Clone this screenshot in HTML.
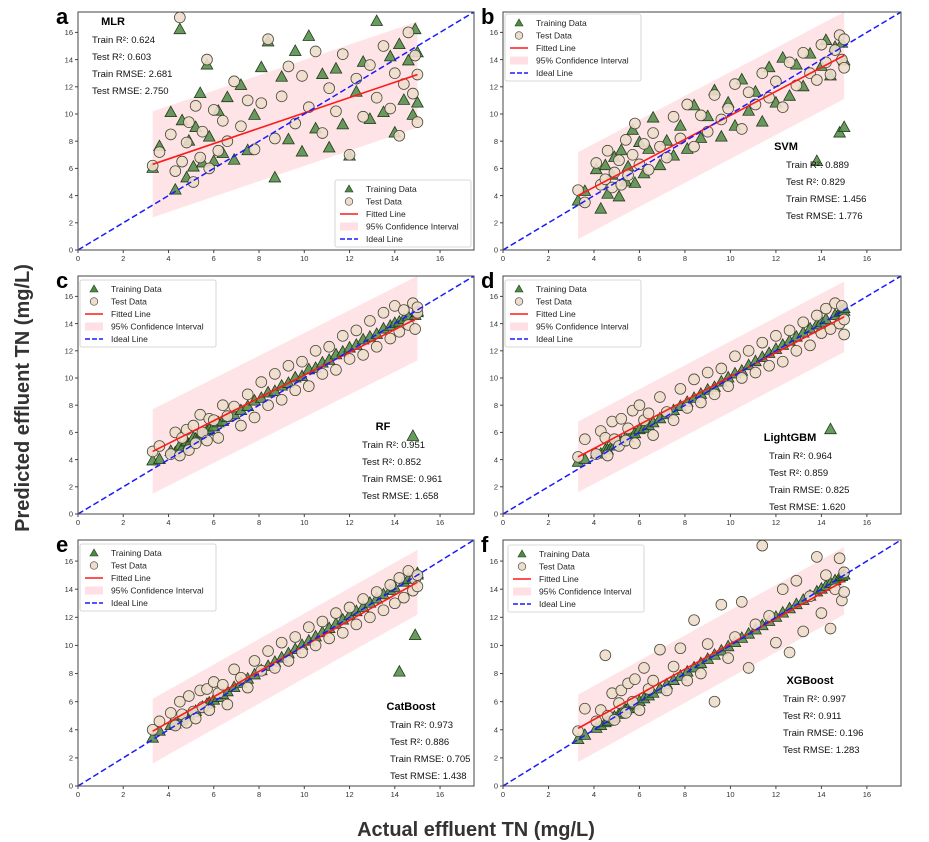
<!DOCTYPE html>
<html><head><meta charset="utf-8"><style>
body{margin:0;background:#fff;}
svg{display:block;font-family:"Liberation Sans",sans-serif;}
</style></head><body>
<svg id="fig" width="929" height="842" viewBox="0 0 929 842"></svg>
<script>
const actual=[3.3,3.6,4.1,4.3,4.5,4.6,4.8,4.9,5.1,5.2,5.4,5.5,5.7,5.8,6.0,6.2,6.4,6.6,6.9,7.2,7.5,7.8,8.1,8.4,8.7,9.0,9.3,9.6,9.9,10.2,10.5,10.8,11.1,11.4,11.7,12.0,12.3,12.6,12.9,13.2,13.5,13.8,14.0,14.2,14.4,14.6,14.8,14.9,15.0,15.0];
const mlrTrain=[6.0,7.6,10.1,4.4,16.2,9.5,5.3,8.0,6.1,9.0,11.5,6.4,13.6,8.3,6.5,10.2,7.1,11.2,6.6,12.1,7.3,9.9,13.4,15.3,5.3,12.7,8.1,14.6,7.2,15.7,8.9,12.9,7.5,13.3,9.2,6.9,11.6,13.8,9.6,16.8,10.1,14.2,8.6,15.1,11.0,13.9,9.9,16.2,14.5,10.8];
const mlrTest=[6.2,7.2,8.5,5.8,17.1,6.5,7.9,9.4,5.0,10.6,6.8,8.7,14.0,6.0,10.3,7.3,9.5,8.0,12.4,9.1,11.0,7.4,10.8,15.5,8.2,11.3,13.5,9.3,12.8,10.5,14.6,8.6,11.9,10.2,14.4,7.0,12.6,9.8,13.6,11.2,15.0,10.4,13.0,8.4,12.2,16.0,11.5,14.3,12.9,9.4];
const svmTrain=[3.6,4.3,5.9,3.0,6.2,4.1,5.5,6.8,3.9,7.3,5.0,6.1,8.8,4.9,7.9,5.6,7.4,9.7,6.2,8.0,6.9,9.1,7.4,10.6,8.2,9.8,11.7,8.3,10.8,9.1,12.5,10.2,11.6,9.4,13.4,10.8,14.1,11.3,13.6,12.0,14.4,6.5,13.5,15.4,12.8,14.9,8.6,15.2,13.9,9.0];
const svmTest=[4.4,3.5,6.4,4.8,5.2,7.3,4.6,5.7,6.6,4.8,8.1,5.5,7.0,9.3,6.3,7.8,5.9,8.6,7.6,6.8,9.8,8.2,10.7,7.6,9.9,8.7,11.4,9.6,10.4,12.2,8.9,11.6,10.7,13.0,11.2,12.4,10.5,13.8,12.1,14.5,13.0,12.5,15.1,13.8,12.9,14.7,15.8,14.0,13.4,15.5];
const rfTrain=[3.9,4.0,4.6,4.5,5.0,4.8,5.3,5.1,5.6,5.5,5.8,5.9,6.1,6.2,6.4,6.7,6.8,7.1,7.3,7.6,7.9,8.3,8.5,8.9,9.0,9.4,9.6,10.0,10.1,10.6,10.7,11.1,11.3,11.7,11.9,12.2,12.4,12.8,13.0,13.2,13.6,13.8,14.0,14.1,14.3,14.5,5.7,14.6,14.8,14.9];
const rfTest=[4.6,5.0,4.4,6.0,4.3,5.6,6.2,4.7,6.5,5.2,7.3,6.0,5.4,7.0,6.9,5.6,8.0,7.2,7.9,6.5,8.8,7.1,9.7,8.0,10.3,8.4,10.9,9.1,11.2,9.4,12.0,10.3,12.3,10.6,13.1,11.4,13.5,11.7,14.2,12.3,14.8,12.9,15.3,13.4,15.0,13.9,15.5,13.6,14.8,15.2];
const lgbTrain=[3.8,4.0,4.4,4.4,4.7,4.7,5.0,5.0,5.3,5.3,5.6,5.6,5.9,5.9,6.2,6.3,6.5,6.7,7.0,7.3,7.6,7.9,8.2,8.5,8.8,9.1,9.3,9.7,10.0,10.3,10.5,10.9,11.2,11.5,11.8,12.1,12.4,12.7,13.0,13.3,13.6,13.9,14.1,14.3,6.2,14.6,14.8,14.9,14.9,15.1];
const lgbTest=[4.2,5.5,4.4,6.1,5.6,4.3,6.8,5.5,5.0,7.0,5.4,6.3,7.6,5.2,8.0,6.9,7.4,5.8,8.6,7.5,6.9,9.2,7.8,9.9,8.2,10.4,8.8,10.7,9.4,11.6,10.0,12.0,10.4,12.6,10.9,13.1,11.2,13.5,12.0,14.1,12.4,14.6,13.3,15.1,13.6,15.5,14.0,15.3,14.3,13.2];
const catTrain=[3.4,3.9,4.3,4.4,4.6,4.7,4.9,5.0,5.2,5.3,5.5,5.6,5.8,5.9,6.1,6.3,6.5,6.7,7.0,7.3,7.6,7.9,8.2,8.5,8.8,9.1,9.4,9.7,10.0,10.3,10.6,10.9,11.2,11.5,11.8,12.1,12.4,12.7,13.0,13.3,13.6,13.9,14.1,8.1,14.5,14.7,14.8,10.7,15.0,15.1];
const catTest=[4.0,4.6,5.2,4.3,6.0,5.1,4.5,6.4,5.3,4.8,6.8,5.6,6.9,5.4,7.4,6.6,7.2,5.8,8.3,7.7,7.0,8.9,8.2,9.6,8.4,10.2,8.9,10.6,9.5,11.3,10.0,11.7,10.5,12.3,10.9,12.7,11.5,13.3,12.0,13.8,12.5,14.3,13.0,14.8,13.4,15.3,13.9,14.7,14.2,15.0];
const xgbTrain=[3.3,3.6,4.1,4.3,4.5,4.6,4.8,4.9,5.1,5.2,5.4,5.5,5.7,5.8,6.0,6.2,6.4,6.6,6.9,7.2,7.5,7.8,8.1,8.4,8.7,9.0,9.3,9.6,9.9,10.2,10.5,10.8,11.1,11.4,11.7,12.0,12.3,12.6,12.9,13.2,13.5,13.8,14.0,14.2,14.4,14.6,14.8,14.9,15.0,15.0];
const xgbTest=[3.9,5.5,4.6,5.4,9.3,5.0,6.6,4.7,5.9,6.8,5.2,7.3,6.0,7.6,5.4,8.4,6.9,7.5,9.7,6.8,8.5,9.8,7.5,11.8,8.0,10.1,6.0,12.9,9.1,10.6,13.1,8.4,11.5,17.1,12.1,10.2,14.0,9.5,14.6,11.0,13.5,16.3,12.3,15.0,11.2,14.0,16.2,13.2,15.2,13.8];
const modelNames=["MLR","SVM","RF","LightGBM","CatBoost","XGBoost"];
const panelLetters=["a","b","c","d","e","f"];
const fitStart=[6.3,4.0,4.6,4.2,3.9,4.1];
const fitEnd=[12.9,14.3,14.4,14.5,14.5,14.6];
const ciHalf=[3.9,3.2,3.1,2.6,2.3,2.4];
const trainR2=["0.624","0.889","0.951","0.964","0.973","0.997"];
const testR2=["0.603","0.829","0.852","0.859","0.886","0.911"];
const trainRMSE=["2.681","1.456","0.961","0.825","0.705","0.196"];
const testRMSE=["2.750","1.776","1.658","1.620","1.438","1.283"];
const xRange=[3.3,15.0];
const tickVals=[0,2,4,6,8,10,12,14,16];
const trains=[mlrTrain,svmTrain,rfTrain,lgbTrain,catTrain,xgbTrain];
const tests=[mlrTest,svmTest,rfTest,lgbTest,catTest,xgbTest];

const NS="http://www.w3.org/2000/svg";
const svg=document.getElementById('fig');
function mk(tag,attrs,parent,text){const e=document.createElementNS(NS,tag);for(const k in attrs)e.setAttribute(k,attrs[k]);if(text!==undefined)e.textContent=text;(parent||svg).appendChild(e);return e;}
const boxes=[[78,474,12,250],[503,901,12,250],[78,474,276,514],[503,901,276,514],[78,474,540,786],[503,901,540,786]];
const statPos=[[113,25,92,'l'],[786,150,786,'r'],[383,430,362,'r'],[790,441,769,'r'],[411,710,390,'r'],[810,684,783,'r']];
const legPos=[[335,180],[505,14],[80,280],[505,280],[80,544],[508,545]];

for(let p=0;p<6;p++){
  const [L,R,T,B]=boxes[p];
  const sx=v=>L+(R-L)*v/17.5, sy=v=>B-(B-T)*v/17.5;
  const g=mk('g',{},svg);
  
  
  const clipId='clip'+p;
  const cp=mk('clipPath',{id:clipId},g);mk('rect',{x:L,y:T,width:R-L,height:B-T},cp);
  const plot=mk('g',{'clip-path':'url(#'+clipId+')'},g);
  const x0=xRange[0],x1=xRange[1];
  const band=mk('polygon',{points:[[sx(x0),sy(fitStart[p]+ciHalf[p])],[sx(x1),sy(fitEnd[p]+ciHalf[p])],[sx(x1),sy(fitEnd[p]-ciHalf[p])],[sx(x0),sy(fitStart[p]-ciHalf[p])]].map(a=>a.join(',')).join(' '),fill:'#ffdfe3',opacity:0.85},plot);
  
  
  trains[p].forEach((v,i)=>{const cx=sx(actual[i]),cy=sy(v);
    const t=mk('polygon',{points:`${cx},${cy-6.5} ${cx-5.8},${cy+4} ${cx+5.8},${cy+4}`,fill:'#4f8a44',stroke:'#1f3d1a','stroke-width':0.8,'fill-opacity':0.85},plot);
    
    });
  tests[p].forEach((v,i)=>{
    const c=mk('circle',{cx:sx(actual[i]),cy:sy(v),r:5.4,fill:'#eeddcc',stroke:'#4a4a3a','stroke-width':0.8,'fill-opacity':0.9},plot);
    
    });
  const fl=mk('line',{x1:sx(x0),y1:sy(fitStart[p]),x2:sx(x1),y2:sy(fitEnd[p]),stroke:'#ff1a1a','stroke-width':1.6},plot);
  
  
  const il=mk('line',{x1:sx(0),y1:sy(0),x2:sx(17.5),y2:sy(17.5),stroke:'#1a1aff','stroke-width':1.5,'stroke-dasharray':'6,3'},plot);
  
  
  mk('rect',{x:L,y:T,width:R-L,height:B-T,fill:'none',stroke:'#444','stroke-width':1},g);
  tickVals.forEach(v=>{
    mk('line',{x1:sx(v),x2:sx(v),y1:B,y2:B+3,stroke:'#444'},g);
    const xt=mk('text',{x:sx(v),y:B+11,'font-size':7.5,'text-anchor':'middle',fill:'#333'},g,v);
    
    
    mk('line',{x1:L-3,x2:L,y1:sy(v),y2:sy(v),stroke:'#444'},g);
    const yt=mk('text',{x:L-5,y:sy(v)+2.7,'font-size':7.5,'text-anchor':'end',fill:'#333'},g,v);
    
    
  });
  const lt=mk('text',{x:L-22,y:T+12,'font-size':22,'font-weight':'bold',fill:'#000'},g,panelLetters[p]);
  
  
  const [tx,ty,lx]=statPos[p];
  const mn=mk('text',{x:tx,y:ty,'font-size':11,'font-weight':'bold','text-anchor':'middle'},g,modelNames[p]);
  
  
  const lines=['Train R²:  '+trainR2[p],'Test R²:  '+testR2[p],'Train RMSE:  '+trainRMSE[p],'Test RMSE:  '+testRMSE[p]];
  lines.forEach((s,i)=>{const st=mk('text',{x:lx,y:ty+18+i*17,'font-size':9.5,fill:'#111','xml:space':'preserve'},g,s);
    
    });
  const [gx,gy]=legPos[p];
  const lg=mk('g',{},g);
  
  
  mk('rect',{x:gx,y:gy,width:136,height:67,fill:'#fff','fill-opacity':0.85,stroke:'#ccc','stroke-width':0.8,rx:2},lg);
  const labs=['Training Data','Test Data','Fitted Line','95% Confidence Interval','Ideal Line'];
  labs.forEach((s,i)=>{const yy=gy+9+i*12.5,kx=gx+14;
    if(i==0)mk('polygon',{points:`${kx},${yy-4} ${kx-4},${yy+3} ${kx+4},${yy+3}`,fill:'#4f8a44',stroke:'#1f3d1a','stroke-width':0.6},lg);
    if(i==1)mk('circle',{cx:kx,cy:yy,r:3.8,fill:'#eeddcc',stroke:'#4a4a3a','stroke-width':0.7},lg);
    if(i==2)mk('line',{x1:kx-9,x2:kx+9,y1:yy,y2:yy,stroke:'#ff1a1a','stroke-width':1.4},lg);
    if(i==3)mk('rect',{x:kx-9,y:yy-4,width:18,height:8,fill:'#ffdfe3'},lg);
    if(i==4)mk('line',{x1:kx-9,x2:kx+9,y1:yy,y2:yy,stroke:'#1a1aff','stroke-width':1.4,'stroke-dasharray':'5,2'},lg);
    const le=mk('text',{x:gx+31,y:yy+3,'font-size':8.5,fill:'#222'},lg,s);
    
    });
}
const yt=mk('text',{x:0,y:0,'font-size':20,'font-weight':'bold','text-anchor':'middle',transform:'translate(29,398) rotate(-90)',fill:'#333'},svg,'Predicted effluent TN (mg/L)');


const xt=mk('text',{x:476,y:836,'font-size':20,'font-weight':'bold','text-anchor':'middle',fill:'#333'},svg,'Actual effluent TN (mg/L)');


</script>
</body></html>
